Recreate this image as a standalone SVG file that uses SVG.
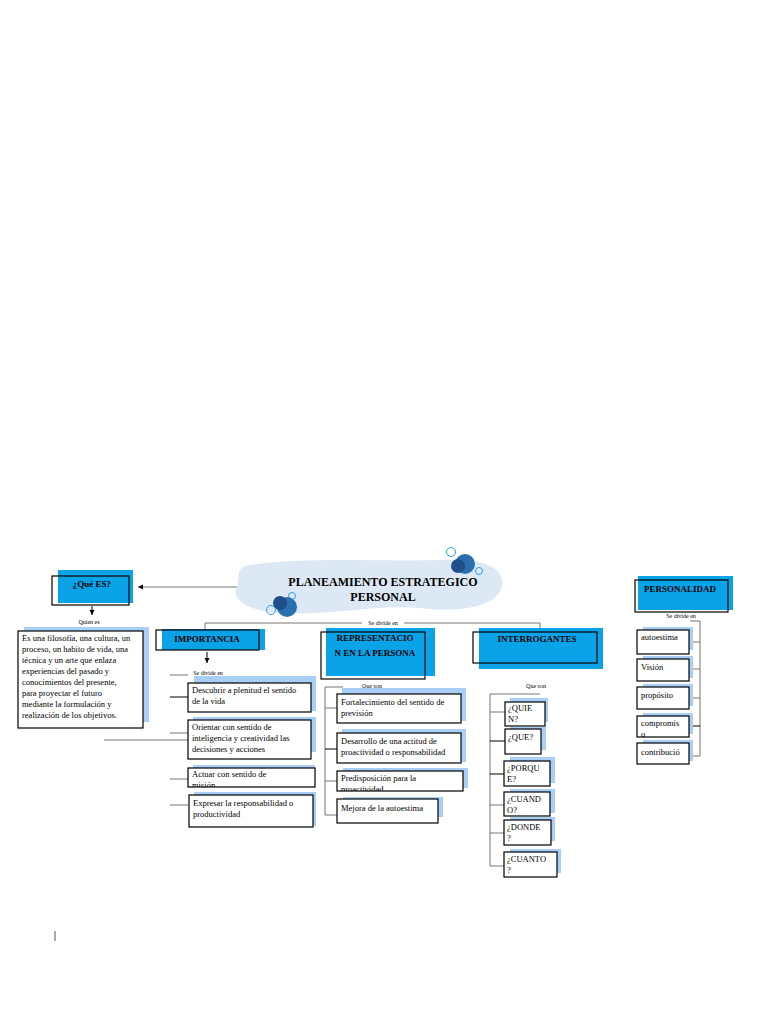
<svg xmlns="http://www.w3.org/2000/svg" width="768" height="1024" viewBox="0 0 768 1024">
<style>
text{font-family:"Liberation Serif","Times New Roman",serif;fill:#000}
.b{fill:none;stroke:#000;stroke-width:1.2}
.bw{fill:#fff;stroke:#000;stroke-width:1.2}
.blue{fill:#0aa3e8}
.sh{fill:#a9cff6}
.h{font-weight:bold;font-size:9px}
.t{font-size:8.5px}
.s{font-size:6px}
.ln{stroke:#777;stroke-width:1;fill:none}
.lk{stroke:#000;stroke-width:1;fill:none}
</style>
<defs>
<marker id="ar" markerWidth="6" markerHeight="6" refX="5" refY="3" orient="auto"><path d="M0,0.5 L5,3 L0,5.5z" fill="#000"/></marker>
<clipPath id="c1"><rect x="188" y="768" width="127" height="19"/></clipPath>
<clipPath id="c2"><rect x="337" y="771" width="126" height="20"/></clipPath>
<clipPath id="c3"><rect x="637" y="716" width="52" height="21"/></clipPath>
</defs>
<rect width="768" height="1024" fill="#fff"/>

<g id="connectors">
<line class="ln" x1="237" y1="587" x2="138" y2="587" marker-end="url(#ar)"/>
<line class="lk" x1="92" y1="606" x2="92" y2="615" marker-end="url(#ar)"/>
<polyline class="ln" points="205,630 205,623 362,623"/>
<polyline class="ln" points="404,623 540,623 540,630"/>
<line class="lk" x1="207" y1="652" x2="207" y2="663" marker-end="url(#ar)"/>
<line class="ln" x1="170" y1="675" x2="188" y2="675"/>
<line class="lk" x1="170" y1="697" x2="188" y2="697"/>
<line class="ln" x1="104" y1="740" x2="188" y2="740"/>
<line class="ln" x1="170" y1="733" x2="188" y2="733"/>
<line class="ln" x1="170" y1="779" x2="188" y2="779"/>
<line class="ln" x1="170" y1="805" x2="188" y2="805"/>
<polyline class="ln" points="343,687 325,687 325,815 337,815"/>
<line class="ln" x1="325" y1="708" x2="337" y2="708"/>
<line class="lk" x1="325" y1="749" x2="337" y2="749"/>
<line class="ln" x1="325" y1="781" x2="337" y2="781"/>
<polyline class="ln" points="540,694 490,694 490,866 504,866"/>
<line class="ln" x1="490" y1="712" x2="505" y2="712"/>
<line class="lk" x1="490" y1="741" x2="505" y2="741"/>
<line class="lk" x1="490" y1="774" x2="504" y2="774"/>
<line class="ln" x1="490" y1="805" x2="504" y2="805"/>
<line class="ln" x1="490" y1="833" x2="504" y2="833"/>
<polyline class="ln" points="690,621 700,621 700,756 689,756"/>
<line class="ln" x1="689" y1="642" x2="700" y2="642"/>
<line class="ln" x1="689" y1="669" x2="700" y2="669"/>
<line class="ln" x1="689" y1="698" x2="700" y2="698"/>
<line class="lk" x1="689" y1="726" x2="700" y2="726"/>
</g>

<g id="title">
<path d="M245,566 C300,556 380,562 440,560 C480,558 505,566 502,585 C500,603 470,614 420,608 C370,604 320,618 270,612 C240,608 232,596 237,587 C240,578 236,570 245,566z" fill="#dce8f4"/>
<circle cx="451" cy="552" r="4.5" fill="none" stroke="#29a3e0" stroke-width="1"/>
<circle cx="465" cy="564" r="10" fill="#2c6fb0"/>
<circle cx="458" cy="566" r="7" fill="#1e4f8a"/>
<circle cx="479" cy="571" r="3.5" fill="none" stroke="#29a3e0" stroke-width="1"/>
<circle cx="292" cy="596" r="3.5" fill="none" stroke="#29a3e0" stroke-width="1"/>
<circle cx="287" cy="607" r="10" fill="#2c6fb0"/>
<circle cx="280" cy="603" r="7" fill="#1e4f8a"/>
<circle cx="271" cy="610" r="4.5" fill="none" stroke="#29a3e0" stroke-width="1"/>
<text x="383" y="586" text-anchor="middle" style="font-weight:bold;font-size:12px">PLANEAMIENTO ESTRATEGICO</text>
<text x="383" y="601" text-anchor="middle" style="font-weight:bold;font-size:12px">PERSONAL</text>
<text x="383" y="625" text-anchor="middle" class="s">Se divide en</text>
</g>

<g id="que-es">
<rect class="blue" x="58" y="570" width="75" height="33"/>
<rect class="b" x="52" y="576" width="77" height="29"/>
<text x="92" y="587" text-anchor="middle" class="h">¿Qué ES?</text>
<text x="89" y="624" text-anchor="middle" class="s">Quien es</text>
</g>

<g id="definicion">
<rect class="sh" x="24" y="627" width="125" height="95"/>
<rect class="bw" x="18" y="631" width="125" height="97"/>
<text class="t" x="22" y="641">Es una filosofía, una cultura, un</text>
<text class="t" x="22" y="652">proceso, un habito de vida, una</text>
<text class="t" x="22" y="663">técnica y un arte que enlaza</text>
<text class="t" x="22" y="674">experiencias del pasado y</text>
<text class="t" x="22" y="685">conocimientos del presente,</text>
<text class="t" x="22" y="696">para proyectar el futuro</text>
<text class="t" x="22" y="707">mediante la formulación y</text>
<text class="t" x="22" y="718">realización de los objetivos.</text>
</g>

<g id="importancia">
<rect class="blue" x="162" y="629" width="103" height="21"/>
<rect class="b" x="156" y="630" width="103" height="20"/>
<text x="207" y="642" text-anchor="middle" class="h">IMPORTANCIA</text>
<text x="208" y="675" text-anchor="middle" class="s">Se divide en</text>
</g>
<g id="imp1">
<rect class="sh" x="194" y="676" width="122" height="35"/>
<rect class="bw" x="188" y="683" width="123" height="29"/>
<text class="t" x="192" y="693">Descubrir a plenitud el sentido</text>
<text class="t" x="192" y="704">de la vida</text>
</g>
<g id="imp2">
<rect class="sh" x="193" y="717" width="123" height="35"/>
<rect class="bw" x="188" y="720" width="123" height="39"/>
<text class="t" x="192" y="730">Orientar con sentido de</text>
<text class="t" x="192" y="741">inteligencia y creatividad las</text>
<text class="t" x="192" y="752">decisiones y acciones</text>
</g>
<g id="imp3">
<rect class="sh" x="193" y="765" width="122" height="22"/>
<rect class="bw" x="188" y="768" width="127" height="19"/>
<g clip-path="url(#c1)"><text class="t" x="192" y="777">Actuar con sentido de</text><text class="t" x="192" y="788">misión</text></g>
</g>
<g id="imp4">
<rect class="sh" x="194" y="792" width="122" height="34"/>
<rect class="bw" x="189" y="795" width="124" height="32"/>
<text class="t" x="193" y="806">Expresar la responsabilidad o</text>
<text class="t" x="193" y="817">productividad</text>
</g>

<g id="representacion">
<rect class="blue" x="326" y="628" width="109" height="48"/>
<rect class="b" x="321" y="632" width="104" height="47"/>
<text x="375" y="641" text-anchor="middle" class="h">REPRESENTACIO</text>
<text x="375" y="656" text-anchor="middle" class="h">N EN LA PERSONA</text>
<text x="372" y="688" text-anchor="middle" class="s">Que son</text>
</g>
<g id="rep1">
<rect class="sh" x="342" y="688" width="124" height="33"/>
<rect class="bw" x="337" y="694" width="124" height="29"/>
<text class="t" x="341" y="705">Fortalecimiento del sentido de</text>
<text class="t" x="341" y="716">previsión</text>
</g>
<g id="rep2">
<rect class="sh" x="342" y="729" width="124" height="33"/>
<rect class="bw" x="337" y="733" width="124" height="30"/>
<text class="t" x="341" y="744">Desarrollo de una actitud de</text>
<text class="t" x="341" y="755">proactividad o responsabilidad</text>
</g>
<g id="rep3">
<rect class="sh" x="343" y="768" width="125" height="20"/>
<rect class="bw" x="337" y="771" width="126" height="20"/>
<g clip-path="url(#c2)"><text class="t" x="341" y="781">Predisposición para la</text><text class="t" x="341" y="792">proactividad</text></g>
</g>
<g id="rep4">
<rect class="sh" x="343" y="797" width="100" height="20"/>
<rect class="bw" x="337" y="799" width="101" height="24"/>
<text class="t" x="341" y="811">Mejora de la autoestima</text>
</g>

<g id="interrogantes">
<rect class="blue" x="479" y="628" width="124" height="41"/>
<rect class="b" x="473" y="632" width="124" height="31"/>
<text x="537" y="642" text-anchor="middle" class="h">INTERROGANTES</text>
<text x="536" y="688" text-anchor="middle" class="s">Que son</text>
</g>
<g id="q1"><rect class="sh" x="510" y="698" width="38" height="24"/><rect class="bw" x="505" y="702" width="40" height="24"/><text class="t" x="508" y="711">¿QUIE</text><text class="t" x="508" y="722">N?</text></g>
<g id="q2"><rect class="sh" x="510" y="727" width="36" height="23"/><rect class="bw" x="505" y="729" width="36" height="25"/><text class="t" x="508" y="740">¿QUE?</text></g>
<g id="q3"><rect class="sh" x="510" y="757" width="45" height="26"/><rect class="bw" x="504" y="761" width="46" height="25"/><text class="t" x="507" y="771">¿PORQU</text><text class="t" x="507" y="782">E?</text></g>
<g id="q4"><rect class="sh" x="510" y="789" width="45" height="24"/><rect class="bw" x="504" y="792" width="46" height="24"/><text class="t" x="507" y="802">¿CUAND</text><text class="t" x="507" y="813">O?</text></g>
<g id="q5"><rect class="sh" x="510" y="817" width="45" height="24"/><rect class="bw" x="504" y="820" width="47" height="25"/><text class="t" x="507" y="830">¿DONDE</text><text class="t" x="507" y="841">?</text></g>
<g id="q6"><rect class="sh" x="510" y="849" width="51" height="24"/><rect class="bw" x="504" y="852" width="53" height="25"/><text class="t" x="507" y="862">¿CUANTO</text><text class="t" x="507" y="873">?</text></g>

<g id="personalidad">
<rect class="blue" x="638" y="576" width="95" height="34"/>
<rect class="b" x="635" y="580" width="93" height="32"/>
<text x="680" y="592" text-anchor="middle" class="h">PERSONALIDAD</text>
<text x="681" y="618" text-anchor="middle" class="s">Se divide en</text>
</g>
<g id="p1"><rect class="sh" x="643" y="627" width="50" height="23"/><rect class="bw" x="637" y="630" width="52" height="24"/><text class="t" x="641" y="640">autoestima</text></g>
<g id="p2"><rect class="sh" x="643" y="656" width="50" height="22"/><rect class="bw" x="637" y="659" width="52" height="22"/><text class="t" x="641" y="670">Visión</text></g>
<g id="p3"><rect class="sh" x="643" y="684" width="50" height="22"/><rect class="bw" x="637" y="687" width="52" height="22"/><text class="t" x="641" y="698">propósito</text></g>
<g id="p4"><rect class="sh" x="643" y="713" width="50" height="21"/><rect class="bw" x="637" y="716" width="52" height="21"/><g clip-path="url(#c3)"><text class="t" x="641" y="726">compromis</text><text class="t" x="641" y="737">o</text></g></g>
<g id="p5"><rect class="sh" x="643" y="740" width="50" height="21"/><rect class="bw" x="637" y="743" width="52" height="21"/><text class="t" x="641" y="755">contribució</text></g>

<line x1="55" y1="931" x2="55" y2="941" stroke="#555" stroke-width="1"/>
</svg>
